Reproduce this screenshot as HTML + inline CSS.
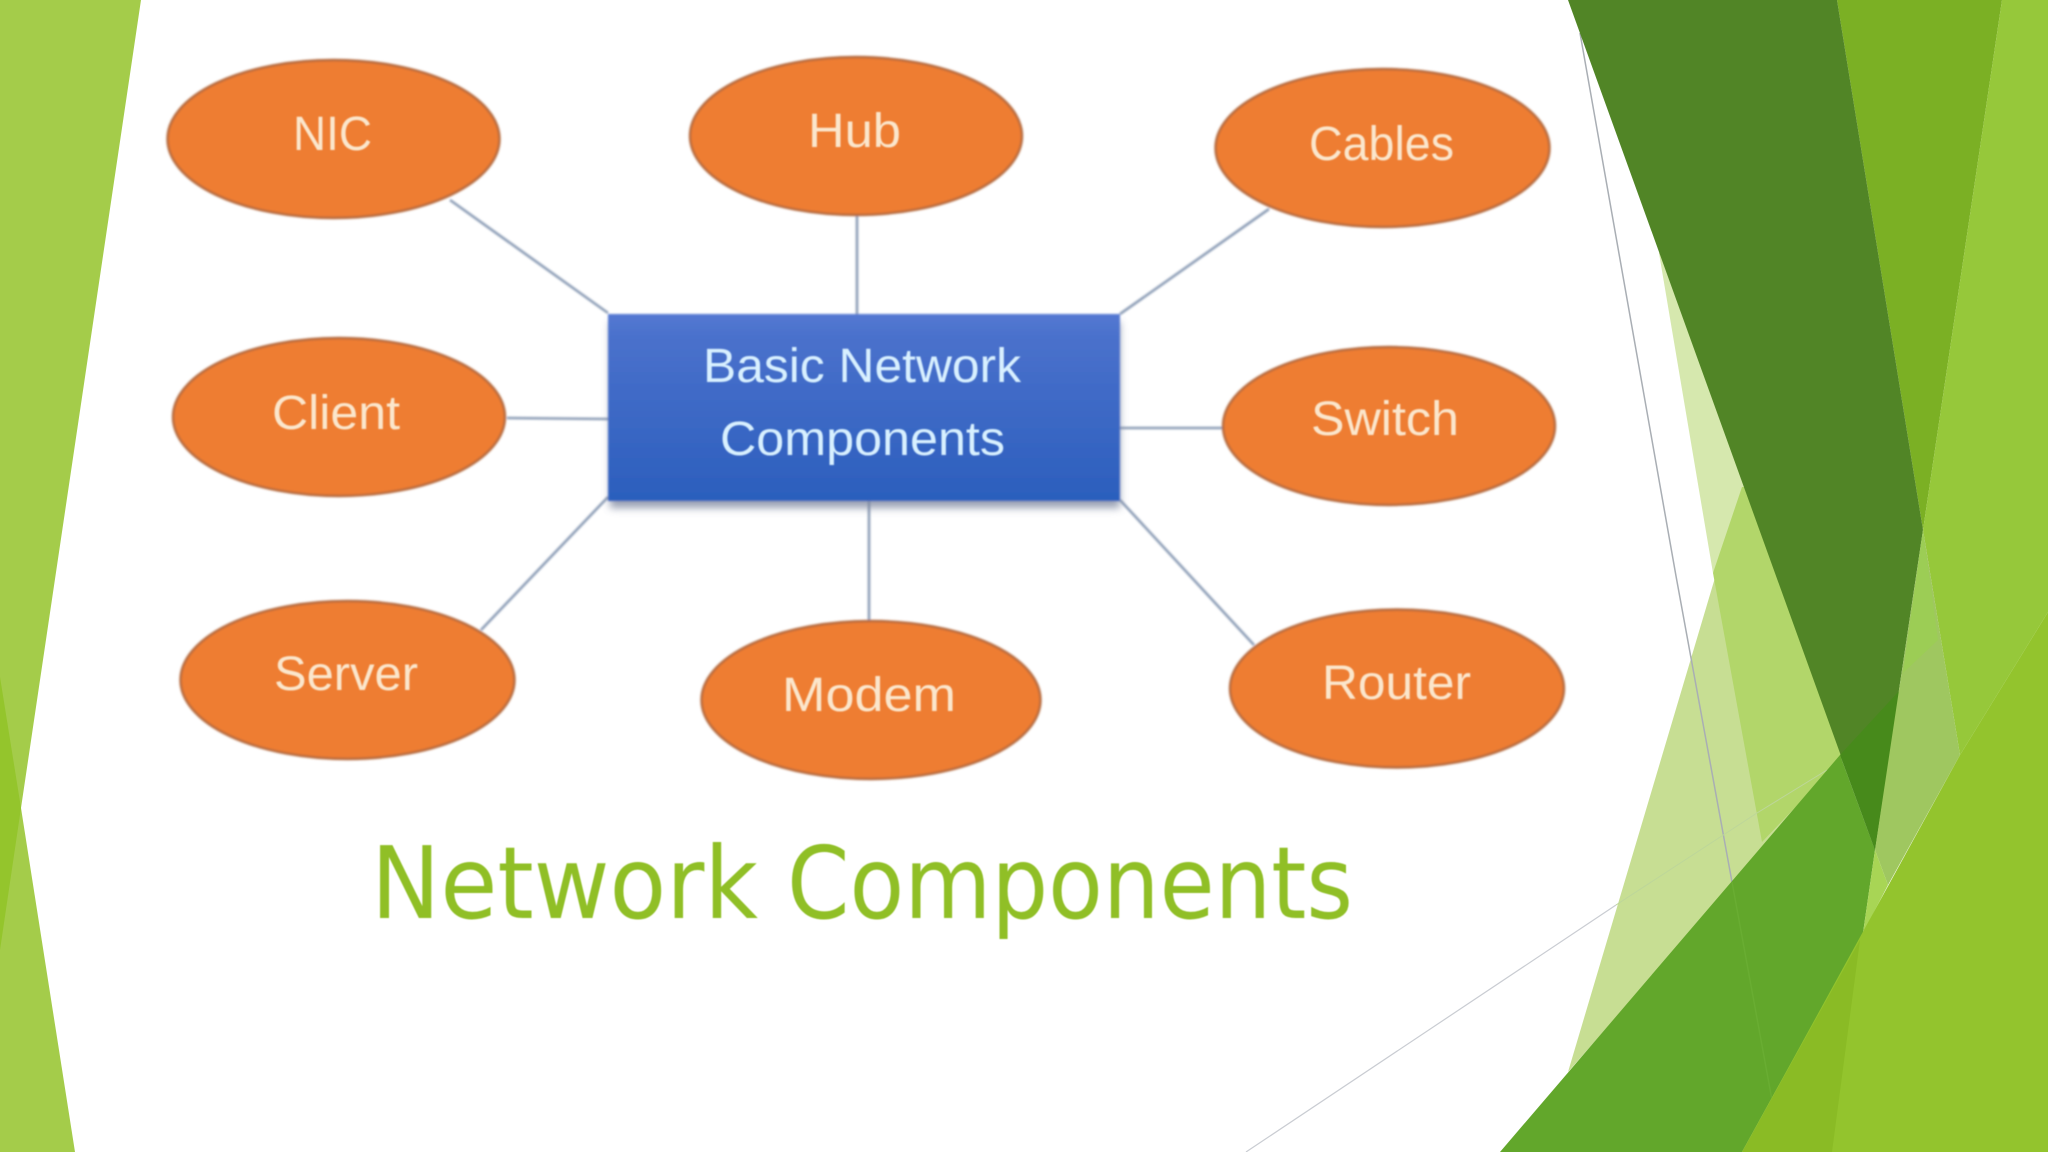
<!DOCTYPE html>
<html>
<head>
<meta charset="utf-8">
<style>
html,body{margin:0;padding:0;background:#fff;width:2048px;height:1152px;overflow:hidden}
svg{display:block}
</style>
</head>
<body>
<svg width="2048" height="1152" viewBox="0 0 2048 1152" xmlns="http://www.w3.org/2000/svg">
<defs>
<linearGradient id="rg" x1="0" y1="0" x2="0" y2="1">
<stop offset="0" stop-color="#5579d2"/><stop offset="0.12" stop-color="#4a71cc"/>
<stop offset="0.6" stop-color="#3a67c4"/><stop offset="1" stop-color="#2b5fbd"/>
</linearGradient>
<filter id="b1" x="-5%" y="-5%" width="110%" height="110%"><feGaussianBlur stdDeviation="1"/></filter>
<filter id="b2" x="-5%" y="-10%" width="110%" height="125%"><feGaussianBlur stdDeviation="4"/></filter>
<filter id="b3" x="-5%" y="-20%" width="110%" height="140%"><feGaussianBlur stdDeviation="0.7"/></filter>
<filter id="b4" x="-2%" y="-10%" width="104%" height="120%"><feGaussianBlur stdDeviation="0.4"/></filter>
</defs>
<rect width="2048" height="1152" fill="#fff"/>

<!-- Left shapes -->
<polygon points="0,0 141,0 21,808 0,950" fill="#A4CC4A"/>
<polygon points="0,677 21,808 75,1152 0,1152" fill="#A4CC4A"/>
<polygon points="0,677 21,808 0,950" fill="#94C52C"/>

<!-- Right pale shapes -->
<polygon points="1742,487 1568,1072 1850,750" fill="#C7DE93"/>
<polygon points="1659,253 1675,253 1752,487 1713,573" fill="#D6E8AE"/>
<polygon points="1742,487 1713,573 1762,842 1850,750 1752,487" fill="#B2D66A"/>

<!-- thin gray lines -->
<polyline points="1580,33 1676,576 1732,882" fill="none" stroke="#a9aeb4" stroke-width="1.5"/>
<polyline points="1246,1152 1616,905" fill="none" stroke="#c9ccd2" stroke-width="1.2"/>
<polyline points="1616,905 1757,813 1827,770" fill="none" stroke="#bdd69a" stroke-width="1"/>

<!-- Medium green -->
<polygon points="1840,755 1500,1152 1742,1152 1863,933 1875,850" fill="#62A72B"/>
<polyline points="1732,882 1772,1100" fill="none" stroke="#69ad32" stroke-width="1.5"/>

<!-- Mid green band -->
<polygon points="1837,0 2002,0 1923,530" fill="#7BB024"/>

<!-- Dark green -->
<polygon points="1568,0 1837,0 1923,530 1875,850" fill="#518526"/>
<polygon points="1840,755 1900,690 1875,850" fill="#478A1B"/>

<!-- Right light band -->
<polygon points="2002,0 2048,0 2048,612 1960,755 1923,530" fill="#96C83A"/>
<polygon points="1923,530 1960,755 1888,885 1875,850" fill="#9FC760"/>
<polygon points="1923,530 1938,640 1903,673" fill="#9CCD55"/>
<polygon points="1875,850 1888,885 1863,933" fill="#A8D555"/>

<!-- Front polygon -->
<polygon points="1960,755 2048,612 2048,1152 1742,1152" fill="#93C42D"/>
<polygon points="1742,1152 1860,940 1832,1152" fill="#8ABB25"/>

<g filter="url(#b1)">
<!-- Connectors -->
<g stroke="#8c9db6" stroke-width="2.6" fill="none">
<line x1="450" y1="200" x2="608" y2="313"/>
<line x1="857" y1="215" x2="857" y2="314"/>
<line x1="1269" y1="209" x2="1120" y2="314"/>
<line x1="507" y1="418" x2="608" y2="419"/>
<line x1="1120" y1="428" x2="1222" y2="428"/>
<line x1="481" y1="630" x2="608" y2="497"/>
<line x1="869" y1="500" x2="869" y2="620"/>
<line x1="1254" y1="645" x2="1120" y2="500"/>
</g>
<!-- Center box -->
<rect x="610" y="322" width="510" height="186" fill="#7f88a0" opacity="0.8" filter="url(#b2)"/>
<rect x="608" y="314" width="512" height="187" fill="url(#rg)"/>
<!-- Ellipses -->
<g fill="#EE7D30" stroke="#B4693C" stroke-width="2.4">
<ellipse cx="333.5" cy="139" rx="166" ry="79"/>
<ellipse cx="856" cy="136" rx="166" ry="79"/>
<ellipse cx="1382.5" cy="148" rx="167" ry="79"/>
<ellipse cx="339" cy="417" rx="166" ry="79"/>
<ellipse cx="1389" cy="426" rx="166" ry="79"/>
<ellipse cx="347.5" cy="680" rx="167" ry="79"/>
<ellipse cx="871" cy="700" rx="169.5" ry="79"/>
<ellipse cx="1397" cy="688.5" rx="167" ry="79"/>
</g>
</g>

<!-- Labels -->
<g filter="url(#b3)" font-family="'Liberation Sans',sans-serif" font-size="48" fill="#FBE6CC">
<text x="293" y="150" textLength="79" lengthAdjust="spacingAndGlyphs">NIC</text>
<text x="808" y="147" textLength="93" lengthAdjust="spacingAndGlyphs">Hub</text>
<text x="1309" y="160" textLength="145" lengthAdjust="spacingAndGlyphs">Cables</text>
<text x="272" y="429" textLength="128" lengthAdjust="spacingAndGlyphs">Client</text>
<text x="1311" y="435" textLength="148" lengthAdjust="spacingAndGlyphs">Switch</text>
<text x="274" y="690" textLength="144" lengthAdjust="spacingAndGlyphs">Server</text>
<text x="782" y="711" textLength="174" lengthAdjust="spacingAndGlyphs">Modem</text>
<text x="1322" y="699" textLength="149" lengthAdjust="spacingAndGlyphs">Router</text>
<text x="703" y="382" textLength="318" lengthAdjust="spacingAndGlyphs" fill="#D8F0FF">Basic Network</text>
<text x="720" y="455" textLength="285" lengthAdjust="spacingAndGlyphs" fill="#D8F0FF">Components</text>
</g>

<!-- Title -->
<g filter="url(#b4)" font-family="'DejaVu Sans',sans-serif" font-size="100" fill="#90BF25">
<text x="371" y="918" textLength="387" lengthAdjust="spacingAndGlyphs">Network</text>
<text x="787" y="918" textLength="566" lengthAdjust="spacingAndGlyphs">Components</text>
</g>
</svg>
</body>
</html>
